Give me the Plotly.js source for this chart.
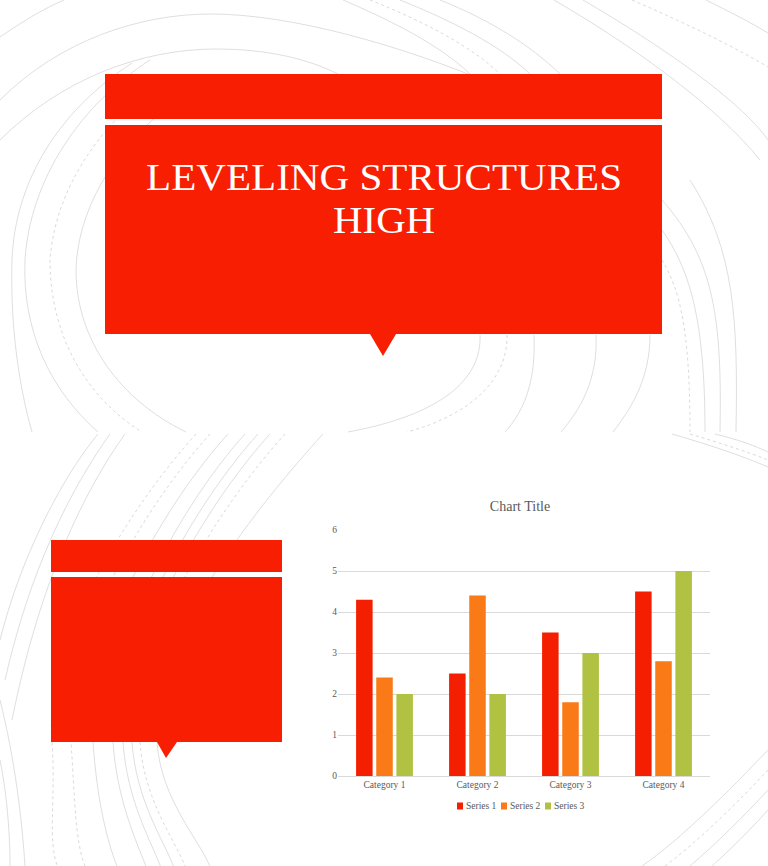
<!DOCTYPE html>
<html>
<head>
<meta charset="utf-8">
<script src="https://cdn.plot.ly/plotly-3.0.1.min.js"></script>
<style>
html,body{margin:0;padding:0;background:#fff;}
#chart{width:768px;height:866px;}
</style>
</head>
<body>
<div id="chart"></div>
<script>
// ---- data ----
var categories = ["Category 1", "Category 2", "Category 3", "Category 4"];
var seriesNames = ["Series 1", "Series 2", "Series 3"];
var series1 = [4.3, 2.5, 3.5, 4.5];
var series2 = [2.4, 4.4, 1.8, 2.8];
var series3 = [2, 2, 3, 5];
var yTicks = [0, 1, 2, 3, 4, 5, 6];
var slideTitle = ["LEVELING STRUCTURES", "HIGH"];
var chartTitle = "Chart Title";

// ---- styling ----
var W = 768, H = 866;
var RED = "#F71E02";
var colors = ["#F41E00", "#FA7A17", "#B1C141"];
var SERIF = "Liberation Serif, Times New Roman, serif";
var GRAY = "#595959";
var TITLE_SIZE = 38;
var TITLE_WIDTHS = [476, 102];
var TITLE_BASELINES = [190, 232.5];

function px(x) { return x / W; }
function py(y) { return 1 - y / H; }
function pt(x, y) { return px(x).toFixed(5) + "," + py(y).toFixed(5); }

// decorative swirl line: [x0,y0, c1x,c1y, c2x,c2y, x1,y1, ...]
function swirl(p, dash) {
  var s = "M " + pt(p[0], p[1]);
  for (var i = 2; i + 5 < p.length; i += 6) {
    s += " C " + pt(p[i], p[i + 1]) + " " + pt(p[i + 2], p[i + 3]) + " " + pt(p[i + 4], p[i + 5]);
  }
  return {
    type: "path", xref: "paper", yref: "paper", layer: "below", path: s,
    line: { color: dash ? "#cfcfcf" : "#d6d6d6", width: 0.8, dash: dash ? "dot" : "solid" }
  };
}
function rect(x0, y0, x1, y1) {
  return {
    type: "rect", xref: "paper", yref: "paper", layer: "below",
    x0: px(x0), x1: px(x1), y0: py(y1), y1: py(y0),
    fillcolor: RED, line: { width: 0 }
  };
}
function tri(xa, xb, y, tx, ty) {
  return {
    type: "path", xref: "paper", yref: "paper", layer: "below",
    path: "M " + pt(xa, y) + " L " + pt(xb, y) + " L " + pt(tx, ty) + " Z",
    fillcolor: RED, line: { width: 0 }
  };
}

var shapes = [
  // ---- top slide swirls ----
  swirl([0, 37, 25, 20, 45, 8, 64, 0]),
  swirl([0, 100, 60, 40, 140, 14, 211, 14, 290, 14, 400, 45, 490, 83]),
  swirl([0, 140, 60, 80, 140, 49, 216, 49, 270, 49, 310, 60, 338, 74]),
  swirl([132, 63, 60, 110, 15, 180, 12, 260, 10, 330, 20, 390, 32, 432]),
  swirl([150, 60, 80, 105, 30, 180, 25, 260, 22, 330, 50, 390, 98, 432]),
  swirl([170, 75, 100, 120, 55, 190, 50, 260, 50, 340, 90, 400, 142, 432], true),
  swirl([205, 80, 125, 130, 78, 200, 76, 270, 76, 340, 120, 400, 186, 432]),
  swirl([480, 335, 482, 380, 440, 415, 348, 432]),
  swirl([507, 335, 508, 380, 470, 415, 407, 432], true),
  swirl([534, 335, 536, 380, 525, 410, 505, 432]),
  swirl([596, 335, 598, 380, 580, 410, 561, 432]),
  swirl([650, 335, 650, 380, 630, 410, 613, 432]),
  swirl([343, 0, 390, 20, 440, 45, 470, 74]),
  swirl([370, 0, 420, 20, 470, 45, 500, 74], true),
  swirl([400, 0, 450, 20, 500, 45, 530, 74]),
  swirl([440, 0, 490, 20, 530, 45, 560, 74]),
  swirl([554, 0, 640, 50, 720, 110, 760, 160]),
  swirl([583, 0, 660, 45, 740, 100, 768, 140]),
  swirl([632, 0, 690, 25, 740, 50, 768, 67], true),
  swirl([706, 0, 730, 12, 750, 22, 768, 33]),
  swirl([662, 230, 690, 270, 705, 320, 705, 432]),
  swirl([662, 260, 680, 290, 690, 330, 690, 432], true),
  swirl([662, 200, 715, 260, 722, 320, 720, 432]),
  swirl([690, 180, 735, 250, 738, 320, 736, 432]),
  // ---- bottom slide swirls ----
  swirl([672, 434, 710, 445, 740, 455, 768, 467]),
  swirl([690, 434, 720, 443, 748, 452, 768, 460], true),
  swirl([715, 434, 740, 440, 755, 446, 768, 452]),
  swirl([98, 434, 60, 480, 20, 560, 0, 640]),
  swirl([110, 434, 70, 490, 30, 570, 5, 680]),
  swirl([125, 434, 85, 490, 40, 580, 12, 720]),
  swirl([0, 700, 15, 760, 22, 820, 25, 866]),
  swirl([0, 760, 8, 800, 10, 840, 10, 866]),
  swirl([768, 750, 730, 790, 680, 840, 642, 866]),
  swirl([768, 770, 740, 800, 700, 840, 665, 866], true),
  swirl([768, 790, 745, 815, 715, 845, 690, 866]),
  swirl([768, 810, 750, 830, 730, 850, 712, 866])
];
// long arcs that pass behind the small box
[[196, 52, true], [210, 71, true], [228, 93], [245, 113], [258, 123], [270, 132], [285, 140, true], [323, 157]]
  .forEach(function (a) {
    var t = a[0], b = a[1], e = b + (b - 40) * 0.45;
    shapes.push(swirl([t, 434, t - 60, 500, b - 10, 640, b, 742, b + 4, 800, e - 10, 840, e, 866], a[2]));
  });
// banners
shapes.push(rect(105, 74, 662, 119), rect(105, 125, 662, 334), tri(370, 396, 334, 383, 356));
shapes.push(rect(51, 540, 282, 572), rect(51, 577, 282, 742), tri(157, 177, 742, 166, 758));

var annotations = [
  { text: slideTitle.join("<br>"), xref: "paper", yref: "paper", x: px(384), y: py(197),
    xanchor: "center", yanchor: "middle", align: "center",
    showarrow: false, font: { family: SERIF, size: TITLE_SIZE, color: "#ffffff" } }
];

// compact legend (built from series names and colours)
var legendX0 = 457, legendStep = 44, legendY = 806;
seriesNames.forEach(function (name, i) {
  var x = legendX0 + i * legendStep;
  shapes.push({
    type: "rect", xref: "paper", yref: "paper", layer: "above",
    x0: px(x), x1: px(x + 6), y0: py(legendY + 3.5), y1: py(legendY - 3.5),
    fillcolor: colors[i], line: { width: 0 }
  });
  annotations.push({
    text: name, xref: "paper", yref: "paper", x: px(x + 7), y: py(legendY),
    xanchor: "left", yanchor: "middle", showarrow: false,
    font: { family: SERIF, size: 9.5, color: GRAY }
  });
});

var allSeries = [series1, series2, series3];
var traces = allSeries.map(function (vals, i) {
  return {
    type: "bar", name: seriesNames[i], x: categories, y: vals,
    marker: { color: colors[i], line: { width: 0 } },
    hoverinfo: "x+y+name"
  };
});

var layout = {
  width: W, height: H,
  margin: { l: 0, r: 0, t: 0, b: 0, pad: 0 },
  paper_bgcolor: "#ffffff",
  plot_bgcolor: "rgba(0,0,0,0)",
  barmode: "group",
  bargap: 0.35,
  bargroupgap: 0.18,
  title: {
    text: chartTitle, xref: "paper", yref: "paper", x: px(520), y: py(506),
    xanchor: "center", yanchor: "middle",
    font: { family: SERIF, size: 14, color: GRAY }
  },
  xaxis: {
    domain: [px(338), px(710)],
    anchor: "y",
    showgrid: false, zeroline: false,
    showline: true, linecolor: "#d9d9d9", linewidth: 1,
    ticks: "", tickfont: { family: SERIF, size: 9.5, color: GRAY },
    fixedrange: true
  },
  yaxis: {
    domain: [py(776), py(530)],
    anchor: "x",
    range: [0, 6], tickvals: yTicks,
    showgrid: true, gridcolor: "#d9d9d9", gridwidth: 1,
    zeroline: false, showline: false, ticks: "",
    tickfont: { family: SERIF, size: 9.5, color: GRAY },
    fixedrange: true
  },
  showlegend: false,
  shapes: shapes,
  annotations: annotations,
  font: { family: SERIF }
};

Plotly.newPlot("chart", traces, layout, { displayModeBar: false, responsive: false }).then(function (gd) {
  // match the slide title's condensed, tightly spaced lines
  var target = null;
  gd.querySelectorAll(".annotation-text").forEach(function (el) {
    if (el.textContent.indexOf(slideTitle[0]) === 0) target = el;
  });
  if (!target) return;
  var lines = target.querySelectorAll("tspan.line");
  if (lines.length < 2) return;
  for (var i = 0; i < lines.length; i++) {
    lines[i].setAttribute("textLength", TITLE_WIDTHS[i]);
    lines[i].setAttribute("lengthAdjust", "spacingAndGlyphs");
  }
  var asc = 0.891 * TITLE_SIZE;
  var r1 = lines[0].getBoundingClientRect();
  var d1 = (TITLE_BASELINES[0] - asc) - r1.top;
  target.setAttribute("transform", (target.getAttribute("transform") || "") + " translate(0," + d1.toFixed(2) + ")");
  var r2 = lines[1].getBoundingClientRect();
  var d2 = (TITLE_BASELINES[1] - asc) - r2.top;
  var dy = lines[1].getAttribute("dy") || "0";
  var dyPx = dy.indexOf("em") > 0 ? parseFloat(dy) * TITLE_SIZE : parseFloat(dy);
  lines[1].setAttribute("dy", (dyPx + d2).toFixed(2));
});
</script>
</body>
</html>
